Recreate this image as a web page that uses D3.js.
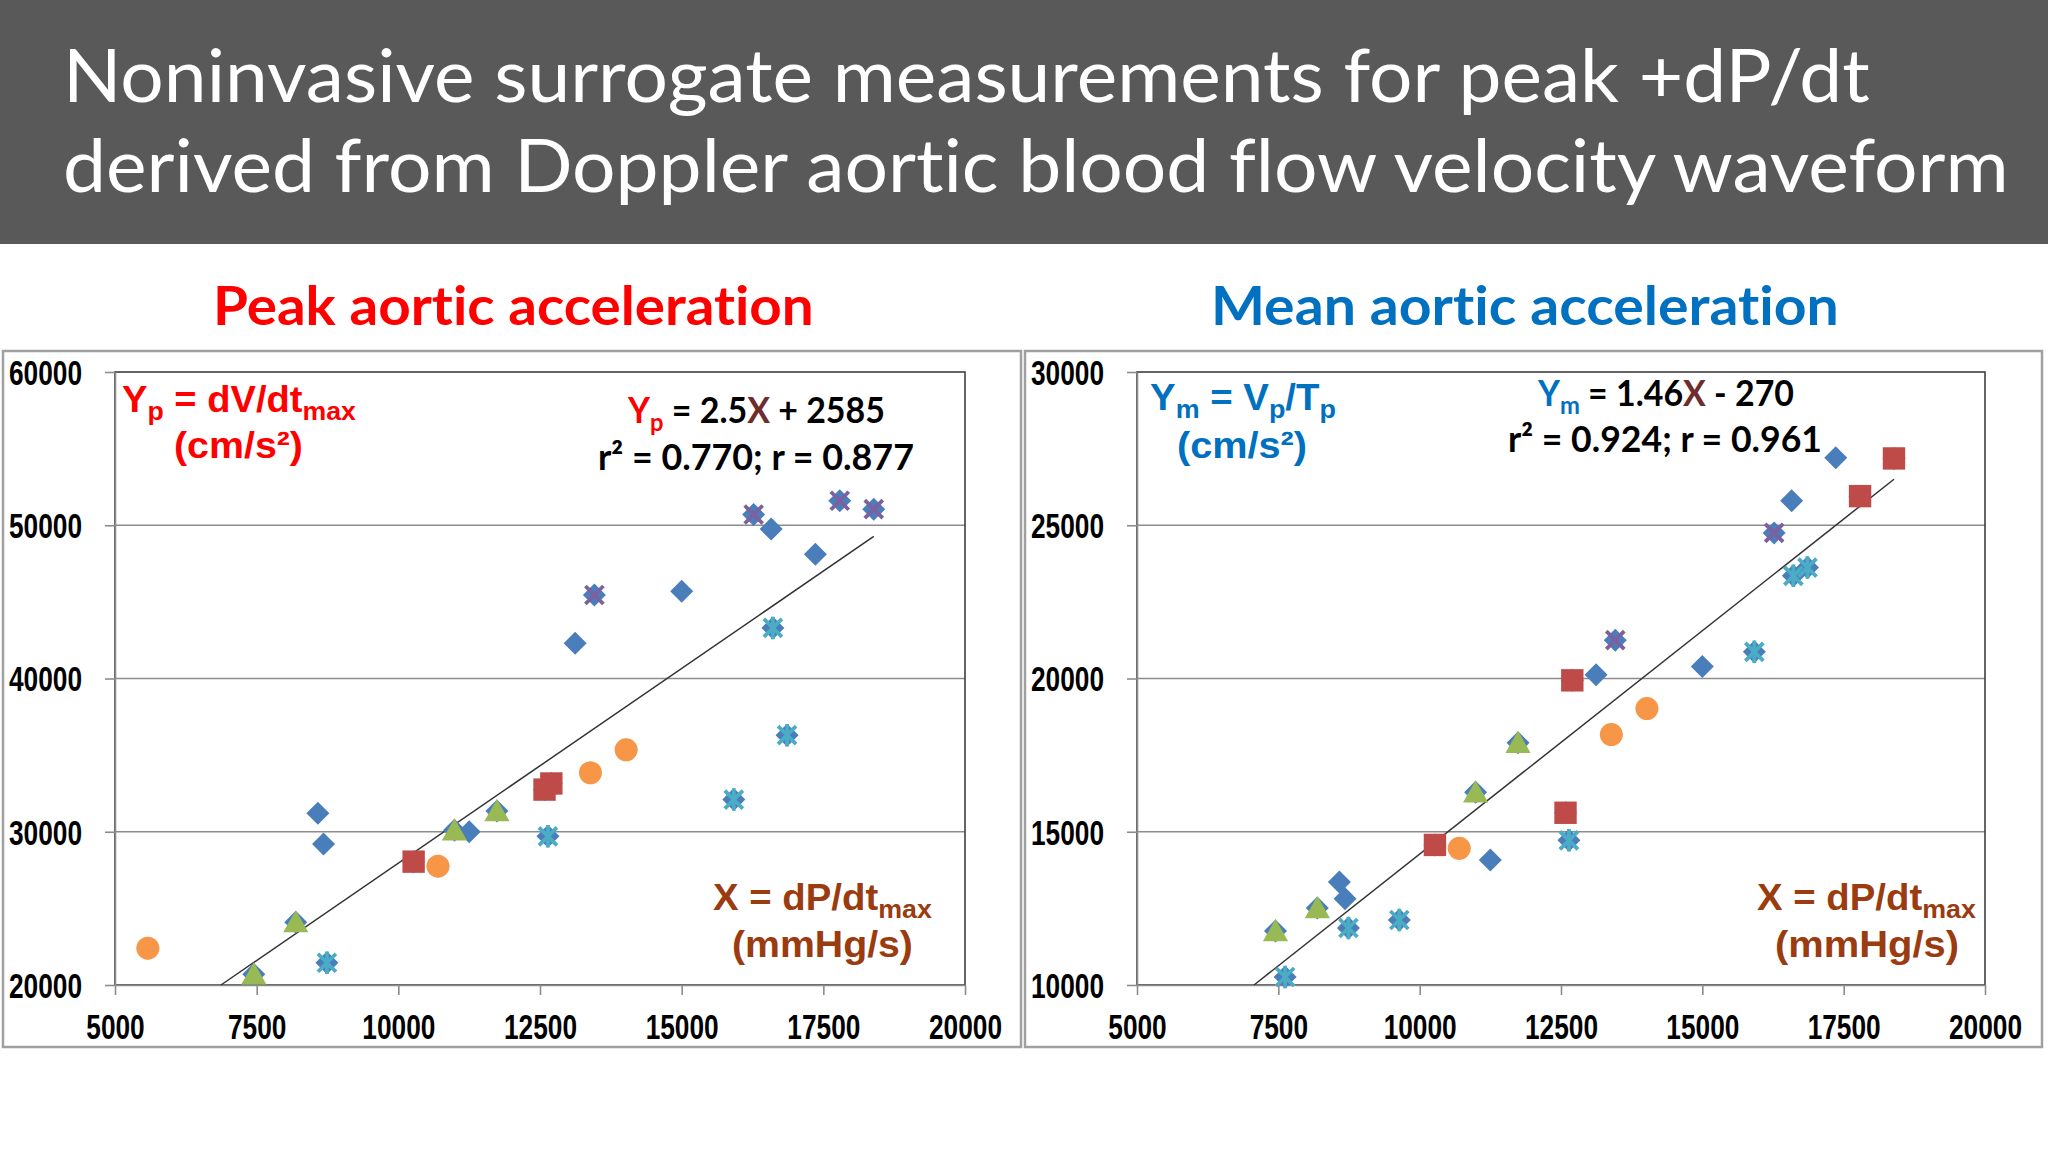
<!DOCTYPE html>
<html><head><meta charset="utf-8">
<script src="https://cdn.jsdelivr.net/npm/d3@7"></script>
<style>html,body{margin:0;padding:0;background:#fff;} svg{display:block;} text{white-space:pre;font-variant-ligatures:none;font-feature-settings:"liga" 0,"clig" 0;}</style>
</head><body>
<svg id="c" width="2048" height="1152"></svg>
<script>
// ---------- data ----------
const xTicks = [5000, 7500, 10000, 12500, 15000, 17500, 20000];
const peakYTicks = [20000, 30000, 40000, 50000, 60000];
const meanYTicks = [10000, 15000, 20000, 25000, 30000];

// Peak aortic acceleration: [dP/dt max (mmHg/s), dV/dt max (cm/s2)]
const peakDiamond  = [[8580,31200],[8680,29200],[11250,30000],[13120,42300],[15000,45700],[16580,49750],[17360,48100]];
const peakSquare   = [[10270,28050],[12580,32750],[12700,33150]];
const peakTriangle = [[7450,20700],[8190,24100],[10990,30100],[11740,31350]];
const peakX        = [[13460,45450],[16270,50700],[17790,51600],[18390,51050]];
const peakStar     = [[8740,21450],[12640,29700],[15920,32100],[16610,43300],[16860,36300]];
const peakCircle   = [[5580,22400],[10700,27750],[13390,33850],[14020,35350]];
const peakTrend    = [[6870,20000],[18390,49270]];

// Mean aortic acceleration: [dP/dt max (mmHg/s), Vp/Tp (cm/s2)]
const meanDiamond  = [[17360,27200],[16580,25800],[13120,20120],[15000,20390],[11250,14080],[8580,13360],[8680,12810]];
const meanSquare   = [[10270,14570],[12580,15620],[12700,19940],[17790,25950],[18390,27180]];
const meanTriangle = [[7450,11760],[8190,12510],[10990,16290],[11740,17900]];
const meanX        = [[13460,21250],[16270,24750]];
const meanStar     = [[7620,10260],[8740,11860],[9640,12120],[12640,14720],[15920,20870],[16610,23350],[16860,23620]];
const meanCircle   = [[10700,14460],[13390,18170],[14020,19020]];
const meanTrend    = [[7070,10000],[18390,26500]];

// ---------- drawing ----------
const svg = d3.select("#c");
svg.append("rect").attr("width", 2048).attr("height", 1152).attr("fill", "#fff");
svg.append("rect").attr("width", 2048).attr("height", 244).attr("fill", "#595959");

const CAL = "Lato, 'Open Sans', sans-serif";
const ARI = "'Liberation Sans', Arial, sans-serif";
const RED = "#FF0000", BLUE = "#0070C0", BROWN = "#9A3B10", MAROON = "#6E2C2C";

function fitText(x, y, width, parts, o) {
  const g = svg.append("g");
  const t = g.append("text").attr("x", 0).attr("y", 0)
    .attr("font-family", o.family).attr("font-weight", o.weight || "normal")
    .attr("font-size", o.size).attr("fill", o.color || "#000");
  let shift = 0;
  parts.forEach(p => {
    const ts = t.append("tspan").text(p.t);
    if (p.c) ts.attr("fill", p.c);
    let target = 0;
    if (p.sub) { ts.attr("font-size", o.size * 0.7); target = o.size * 0.22; }
    if (target !== shift) { ts.attr("dy", target - shift); shift = target; }
  });
  const w = t.node().getComputedTextLength();
  g.attr("transform", `translate(${x},${y}) scale(${width / w},1)`);
}

// title
fitText(63, 102, 1807, [{t: "Noninvasive surrogate measurements for peak +dP/dt"}], {family: CAL, size: 74, color: "#fff"});
fitText(63, 192, 1946, [{t: "derived from Doppler aortic blood flow velocity waveform"}], {family: CAL, size: 74, color: "#fff"});

// subtitles
fitText(213, 325, 601, [{t: "Peak aortic acceleration"}], {family: CAL, size: 53, weight: "bold", color: RED});
fitText(1211, 325, 628, [{t: "Mean aortic acceleration"}], {family: CAL, size: 53, weight: "bold", color: BLUE});

const markerPath = {
  diamond: s => `M0,${-s}L${s},0L0,${s}L${-s},0Z`,
  square: s => `M${-s},${-s}H${s}V${s}H${-s}Z`,
  triangle: s => `M0,${-s}L${s * 1.05},${s * 0.85}H${-s * 1.05}Z`,
  x: s => `M${-s},${-s}L${s},${s}M${-s},${s}L${s},${-s}`,
  star: s => `M${-s},${-s}L${s},${s}M${-s},${s}L${s},${-s}M0,${-s * 1.25}V${s * 1.25}`
};

function panel(cfg) {
  // panel frame
  svg.append("rect").attr("x", cfg.frame[0]).attr("y", 351).attr("width", cfg.frame[1] - cfg.frame[0]).attr("height", 696)
    .attr("fill", "none").attr("stroke", "#A0A0A0").attr("stroke-width", 2.5);

  const x = d3.scaleLinear().domain([5000, 20000]).range([cfg.x0, cfg.x1]);
  const y = d3.scaleLinear().domain(cfg.yDomain).range([985, 372]);

  // gridlines
  svg.append("g").selectAll("line").data(cfg.yTicks.slice(1, -1)).join("line")
    .attr("x1", cfg.x0).attr("x2", cfg.x1).attr("y1", d => y(d)).attr("y2", d => y(d))
    .attr("stroke", "#8C8C8C").attr("stroke-width", 1.5);

  // plot border
  svg.append("rect").attr("x", cfg.x0).attr("y", 372).attr("width", cfg.x1 - cfg.x0).attr("height", 613)
    .attr("fill", "none").attr("stroke", "#3F3F3F").attr("stroke-width", 1.6);

  // axes
  const ya = svg.append("g").attr("transform", `translate(${cfg.x0},0)`)
    .call(d3.axisLeft(y).tickValues(cfg.yTicks).tickSize(10).tickSizeOuter(0).tickPadding(23).tickFormat(d3.format("d")));
  const xa = svg.append("g").attr("transform", `translate(0,985)`)
    .call(d3.axisBottom(x).tickValues(xTicks).tickSize(10).tickSizeOuter(0).tickFormat(d3.format("d")));
  [ya, xa].forEach(a => {
    a.select(".domain").attr("stroke", "#8C8C8C").attr("stroke-width", 1.6);
    a.selectAll(".tick line").attr("stroke", "#8C8C8C").attr("stroke-width", 1.6);
    a.selectAll("text").attr("font-family", ARI).attr("font-weight", "bold").attr("font-size", 35)
      .attr("fill", "#000")
      .attr("textLength", d => String(d).length * 14.6).attr("lengthAdjust", "spacingAndGlyphs");
  });
  ya.selectAll("text").attr("dy", "0.35em");
  xa.selectAll("text").attr("y", 54).attr("dy", 0);

  // trend line
  svg.append("path").datum(cfg.trend)
    .attr("d", d3.line().x(d => x(d[0])).y(d => y(d[1])))
    .attr("fill", "none").attr("stroke", "#333").attr("stroke-width", 1.5);

  const all = [].concat(cfg.diamond, cfg.square, cfg.triangle, cfg.xs, cfg.star, cfg.circle);
  const pts = svg.append("g");
  // base diamond series (all observations)
  pts.append("g").selectAll("path").data(all).join("path")
    .attr("transform", d => `translate(${x(d[0])},${y(d[1])})`)
    .attr("d", markerPath.diamond(11.5)).attr("fill", "#4A7EBB");
  pts.append("g").selectAll("path").data(cfg.square).join("path")
    .attr("transform", d => `translate(${x(d[0])},${y(d[1])})`)
    .attr("d", markerPath.square(11.2)).attr("fill", "#BE4B48");
  pts.append("g").selectAll("path").data(cfg.triangle).join("path")
    .attr("transform", d => `translate(${x(d[0])},${y(d[1])})`)
    .attr("d", markerPath.triangle(12)).attr("fill", "#98B954");
  pts.append("g").selectAll("path").data(cfg.xs).join("path")
    .attr("transform", d => `translate(${x(d[0])},${y(d[1])})`)
    .attr("d", markerPath.x(9)).attr("fill", "none").attr("stroke", "#7D60A0").attr("stroke-width", 3.8);
  pts.append("g").selectAll("path").data(cfg.star).join("path")
    .attr("transform", d => `translate(${x(d[0])},${y(d[1])})`)
    .attr("d", markerPath.star(9)).attr("fill", "none").attr("stroke", "#4BACC6").attr("stroke-width", 3.8);
  pts.append("g").selectAll("circle").data(cfg.circle).join("circle")
    .attr("cx", d => x(d[0])).attr("cy", d => y(d[1])).attr("r", 11.5).attr("fill", "#F79646");
}

panel({frame: [3, 1021], x0: 115, x1: 965, yDomain: [20000, 60000], yTicks: peakYTicks,
  diamond: peakDiamond, square: peakSquare, triangle: peakTriangle, xs: peakX, star: peakStar, circle: peakCircle, trend: peakTrend});
panel({frame: [1025, 2042], x0: 1137, x1: 1985, yDomain: [10000, 30000], yTicks: meanYTicks,
  diamond: meanDiamond, square: meanSquare, triangle: meanTriangle, xs: meanX, star: meanStar, circle: meanCircle, trend: meanTrend});

// annotations: left
fitText(122, 412, 234, [{t: "Y"}, {t: "p", sub: true}, {t: " = dV/dt"}, {t: "max", sub: true}], {family: ARI, size: 37, weight: "bold", color: RED});
fitText(174, 458, 129, [{t: "(cm/s²)"}], {family: ARI, size: 37, weight: "bold", color: RED});
fitText(628, 423, 257, [{t: "Y", c: RED}, {t: "p", sub: true, c: RED}, {t: " = 2.5"}, {t: "X", c: MAROON}, {t: " + 2585"}], {family: CAL, size: 36, weight: "bold"});
fitText(598, 470, 316, [{t: "r² = 0.770; r = 0.877"}], {family: CAL, size: 36, weight: "bold"});
fitText(713, 910, 219, [{t: "X = dP/dt"}, {t: "max", sub: true}], {family: ARI, size: 37, weight: "bold", color: BROWN});
fitText(732, 957, 181, [{t: "(mmHg/s)"}], {family: ARI, size: 37, weight: "bold", color: BROWN});

// annotations: right
fitText(1150, 410, 186, [{t: "Y"}, {t: "m", sub: true}, {t: " = V"}, {t: "p", sub: true}, {t: "/T"}, {t: "p", sub: true}], {family: ARI, size: 37, weight: "bold", color: BLUE});
fitText(1177, 458, 130, [{t: "(cm/s²)"}], {family: ARI, size: 37, weight: "bold", color: BLUE});
fitText(1538, 406, 256, [{t: "Y", c: BLUE}, {t: "m", sub: true, c: BLUE}, {t: " = 1.46"}, {t: "X", c: MAROON}, {t: " - 270"}], {family: CAL, size: 36, weight: "bold"});
fitText(1508, 452, 314, [{t: "r² = 0.924; r = 0.961"}], {family: CAL, size: 36, weight: "bold"});
fitText(1757, 910, 219, [{t: "X = dP/dt"}, {t: "max", sub: true}], {family: ARI, size: 37, weight: "bold", color: BROWN});
fitText(1775, 957, 184, [{t: "(mmHg/s)"}], {family: ARI, size: 37, weight: "bold", color: BROWN});
</script>
</body></html>
